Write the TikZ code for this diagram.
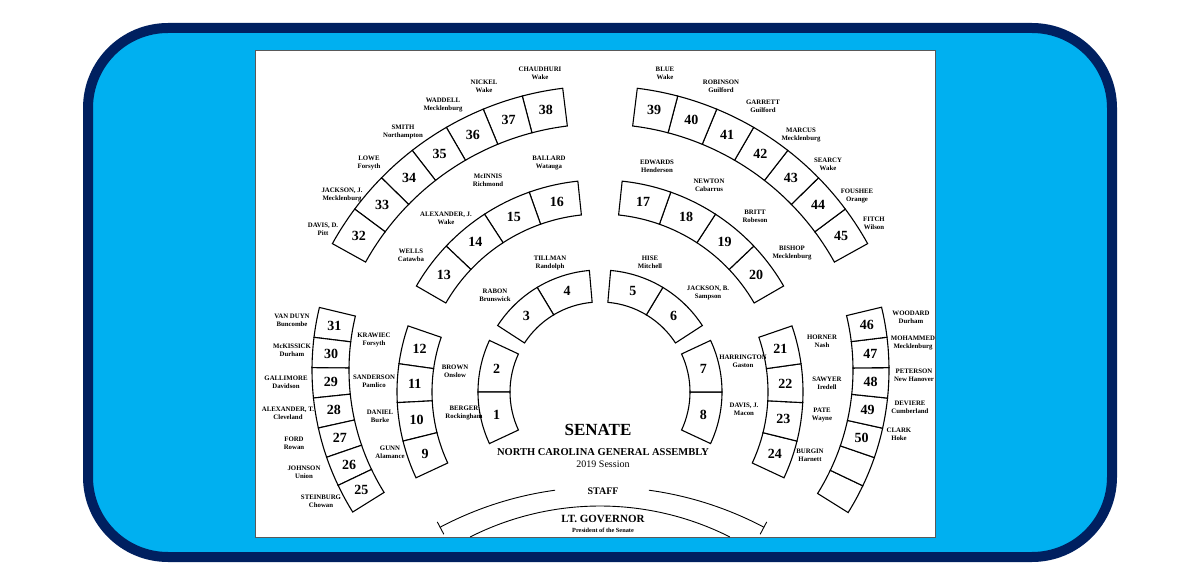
\documentclass[tikz,border=0pt]{standalone}
\usepackage{fontspec}
\setmainfont{Liberation Serif}
\definecolor{navy}{HTML}{002060}
\definecolor{sky}{HTML}{00B0F0}
\tikzset{
  seatline/.style={draw=black,line width=1.1pt,fill=white},
  num/.style={font=\bfseries\fontsize{14}{14}\selectfont,inner sep=0pt},
  lab/.style={align=center,inner sep=0pt,font=\bfseries\fontsize{6.8}{7.8}\selectfont},
  big/.style={inner sep=0pt,font=\bfseries\fontsize{#1}{#1}\selectfont},
}
\newcommand\seatrow[7]{%
  \foreach \n [count=\i from 0] in {#7} {%
    \pgfmathsetmacro\aa{#5+\i*#6}%
    \pgfmathsetmacro\ab{#5+(\i+1)*#6}%
    \pgfmathsetmacro\am{#5+(\i+0.5)*#6}%
    \draw[seatline,shift={(#1,#2)}] (\aa:#3) -- (\aa:#4) arc[start angle=\aa,end angle=\ab,radius=#4] -- (\ab:#3) arc[start angle=\ab,end angle=\aa,radius=#3] -- cycle;
    \node[num] (s\n) at ([shift={(#1,#2)}]\am:{(#3+#4)/2}) {\n};
  }}
\newcommand\lab[5]{\node[lab] (l#1) at (#2,{587-#3}) {#4\\#5};}
\begin{document}
\begin{tikzpicture}[x=1pt,y=1pt]
\useasboundingbox (0,0) rectangle (1200,587);
\draw[line width=10pt,draw=navy,fill=sky,rounded corners=80pt] (88,30) rectangle (1112,559);
\draw[fill=white,draw=gray!70!black,line width=0.6pt] (255,50) rectangle (935,537);
% ring 1
\seatrow{600}{195}{90}{122}{155}{25}{2,1}
\seatrow{600}{195}{90}{122}{-25}{25}{8,7}
\seatrow{600}{195}{90}{122}{95}{26}{4,3}
\seatrow{600}{195}{90}{122}{33}{26}{6,5}
% ring 2
\seatrow{600}{195}{168}{203}{161}{11}{12,11,10,9}
\seatrow{600}{195}{168}{203}{-25}{11}{24,23,22,21}
\seatrow{600}{195}{178}{212}{96}{13.5}{16,15,14,13}
\seatrow{600}{195}{178}{212}{30}{13.5}{20,19,18,17}
% ring 3
\seatrow{600}{195}{268}{306}{97}{7.714}{38,37,36,35,34,33,32}
\seatrow{600}{195}{268}{306}{29}{7.714}{45,44,43,42,41,40,39}
\seatrow{580}{217}{231}{268}{166.5}{6.5}{31,30,29,28,27,26,25}
\seatrow{620}{217}{233}{269}{-32}{6.5}{{},{},50,49,48,47,46}
% labels
\lab{38}{540}{73}{CHAUDHURI}{Wake}
\lab{37}{484}{86}{NICKEL}{Wake}
\lab{36}{443}{105}{WADDELL}{Mecklenburg}
\lab{35}{403}{132}{SMITH}{Northampton}
\lab{34}{369}{163}{LOWE}{Forsyth}
\lab{33}{342}{195}{JACKSON, J.}{Mecklenburg}
\lab{32}{323}{229}{DAVIS, D.}{Pitt}
\lab{16}{549}{163}{BALLARD}{Watauga}
\lab{15}{488}{180}{McINNIS}{Richmond}
\lab{14}{446}{218}{ALEXANDER, J.}{Wake}
\lab{13}{411}{255}{WELLS}{Catawba}
\lab{4}{550}{263}{TILLMAN}{Randolph}
\lab{3}{495}{295}{RABON}{Brunswick}
\lab{39}{665}{73}{BLUE}{Wake}
\lab{40}{721}{86}{ROBINSON}{Guilford}
\lab{41}{763}{106}{GARRETT}{Guilford}
\lab{42}{801}{135}{MARCUS}{Mecklenburg}
\lab{43}{828}{164}{SEARCY}{Wake}
\lab{44}{857}{196}{FOUSHEE}{Orange}
\lab{45}{874}{223}{FITCH}{Wilson}
\lab{17}{657}{166}{EDWARDS}{Henderson}
\lab{18}{709}{185}{NEWTON}{Cabarrus}
\lab{19}{755}{216}{BRITT}{Robeson}
\lab{20}{792}{253}{BISHOP}{Mecklenburg}
\lab{5}{650}{262}{HISE}{Mitchell}
\lab{6}{708}{293}{JACKSON, B.}{Sampson}
\lab{31}{292}{320}{VAN DUYN}{Buncombe}
\lab{30}{292}{350}{McKISSICK}{Durham}
\lab{29}{286}{382}{GALLIMORE}{Davidson}
\lab{28}{288}{413}{ALEXANDER, T.}{Cleveland}
\lab{27}{294}{443}{FORD}{Rowan}
\lab{26}{304}{472}{JOHNSON}{Union}
\lab{25}{321}{501}{STEINBURG}{Chowan}
\lab{12}{374}{340}{KRAWIEC}{Forsyth}
\lab{11}{374}{381}{SANDERSON}{Pamlico}
\lab{10}{380}{416}{DANIEL}{Burke}
\lab{9}{390}{452}{GUNN}{Alamance}
\lab{2}{455}{371}{BROWN}{Onslow}
\lab{1}{464}{413}{BERGER}{Rockingham}
\lab{7}{743}{361}{HARRINGTON}{Gaston}
\lab{8}{744}{409}{DAVIS, J.}{Macon}
\lab{21}{822}{341}{HORNER}{Nash}
\lab{22}{827}{383}{SAWYER}{Iredell}
\lab{23}{822}{415}{PATE}{Wayne}
\lab{24}{810}{455}{BURGIN}{Harnett}
\lab{46}{911}{317}{WOODARD}{Durham}
\lab{47}{913}{343}{MOHAMMED}{Mecklenburg}
\lab{48}{914}{375}{PETERSON}{New Hanover}
\lab{49}{910}{407}{DEVIERE}{Cumberland}
\lab{50}{899}{434}{CLARK}{Hoke}
% centre texts
\node[big=17] (senate) at (598,157) {SENATE};
\node[big=10.5] (ncga) at (603,135) {NORTH CAROLINA GENERAL ASSEMBLY};
\node[inner sep=0pt,font=\fontsize{10}{10}\selectfont] (sess) at (603,123) {2019 Session};
\node[big=10] (staff) at (603,96) {STAFF};
\node[big=11] (gov) at (603,68) {LT. GOVERNOR};
\node[big=6.3] (pres) at (603,57) {President of the Senate};
% staff arcs
\begin{scope}[shift={(602,-246)},line width=0.9pt]
\draw (117.9:346) arc[start angle=117.9,end angle=97.8,radius=346];
\draw (62.1:346) arc[start angle=62.1,end angle=82.2,radius=346];
\draw (117.9:338) -- (117.9:352);
\draw (62.1:338) -- (62.1:352);
\end{scope}
\draw[line width=0.9pt,shift={(600,-207)}] (116.8:288) arc[start angle=116.8,end angle=63.2,radius=288];
\end{tikzpicture}
\end{document}
